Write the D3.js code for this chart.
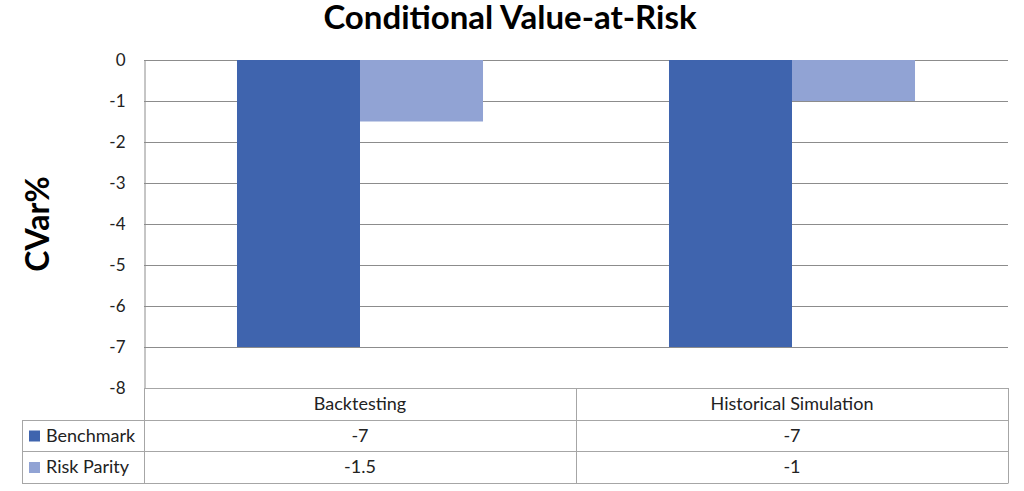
<!DOCTYPE html>
<html>
<head>
<meta charset="utf-8">
<script src="https://cdn.jsdelivr.net/npm/d3@7"></script>
<style>
  body { margin: 0; background: #fff; }
  text { font-family: Lato, "Open Sans", sans-serif; }
</style>
</head>
<body>
<script>
const categories = ["Backtesting", "Historical Simulation"];
const seriesNames = ["Benchmark", "Risk Parity"];
const benchmark = [-7, -7];
const riskParity = [-1.5, -1];
const yTicks = [0, -1, -2, -3, -4, -5, -6, -7, -8];
const colors = ["#3f64ae", "#91a3d4"];

const width = 1024;
const height = 491;
const marginLeft = 144;
const marginRight = 16;
const marginTop = 60;
const plotBottom = 388;
const rowH = 32;

const values = [benchmark, riskParity];

const svg = d3.select("body")
  .append("svg")
  .attr("width", width)
  .attr("height", height)
  .attr("viewBox", [0, 0, width, height]);

// Scales
const x0 = d3.scaleBand()
  .domain(categories)
  .range([marginLeft, width - marginRight])
  .padding(0);

const x1 = d3.scaleBand()
  .domain(seriesNames)
  .range([0, x0.bandwidth()])
  .paddingInner(0)
  .paddingOuter(0.756);

const y = d3.scaleLinear()
  .domain([-8, 0])
  .range([plotBottom, marginTop]);

// Title
svg.append("text")
  .attr("x", 510)
  .attr("y", 29)
  .attr("text-anchor", "middle")
  .attr("font-size", 33)
  .attr("font-weight", "bold")
  .attr("fill", "#000")
  .text("Conditional Value-at-Risk");

// Y axis title
svg.append("text")
  .attr("transform", `translate(49,${224}) rotate(-90)`)
  .attr("text-anchor", "middle")
  .attr("font-size", 32)
  .attr("font-weight", "bold")
  .attr("fill", "#000")
  .text("CVar%");

// Gridlines
svg.append("g")
  .selectAll("line")
  .data(yTicks)
  .join("line")
  .attr("x1", marginLeft)
  .attr("x2", width - marginRight)
  .attr("y1", d => Math.round(y(d)) + 0.5)
  .attr("y2", d => Math.round(y(d)) + 0.5)
  .attr("stroke", "#8c8c8c")
  .attr("stroke-width", 1);

// Y axis
svg.append("g")
  .attr("transform", `translate(${marginLeft + 0.5},0)`)
  .call(d3.axisLeft(y).tickValues(yTicks).tickSize(0).tickPadding(19).tickFormat(d => String(d)))
  .call(g => g.select(".domain").attr("stroke", "#8c8c8c"))
  .call(g => g.selectAll(".tick text")
    .attr("font-size", 17)
    .attr("fill", "#222")
    .attr("font-family", "Lato, sans-serif"));

// Bars
const groups = svg.append("g")
  .selectAll("g")
  .data(categories)
  .join("g")
  .attr("transform", d => `translate(${x0(d)},0)`);

groups.selectAll("rect")
  .data((d, i) => seriesNames.map((s, j) => ({ s, v: values[j][i], j })))
  .join("rect")
  .attr("x", d => x1(d.s))
  .attr("width", x1.bandwidth())
  .attr("y", d => y(0))
  .attr("height", d => y(d.v) - y(0))
  .attr("fill", d => colors[d.j]);

// Data table
const table = svg.append("g").attr("stroke", "#a6a6a6").attr("stroke-width", 1);
const tableLeft = 22;
const tableRight = width - marginRight;
const rowTops = [plotBottom, plotBottom + rowH, plotBottom + 2 * rowH - 1, plotBottom + 3 * rowH - 1];

// horizontal lines
table.append("line")
  .attr("x1", marginLeft).attr("x2", tableRight)
  .attr("y1", rowTops[0] + 0.5).attr("y2", rowTops[0] + 0.5);
[1, 2, 3].forEach(i => {
  table.append("line")
    .attr("x1", tableLeft).attr("x2", tableRight)
    .attr("y1", rowTops[i] + 0.5).attr("y2", rowTops[i] + 0.5);
});
// vertical lines
table.append("line")
  .attr("x1", tableLeft + 0.5).attr("x2", tableLeft + 0.5)
  .attr("y1", rowTops[1]).attr("y2", rowTops[3] + 0.5);
categories.forEach(c => {
  table.append("line")
    .attr("x1", x0(c) + 0.5).attr("x2", x0(c) + 0.5)
    .attr("y1", rowTops[0]).attr("y2", rowTops[3] + 0.5);
});
table.append("line")
  .attr("x1", tableRight + 0.5).attr("x2", tableRight + 0.5)
  .attr("y1", rowTops[0]).attr("y2", rowTops[3] + 0.5);

// header
svg.append("g")
  .selectAll("text")
  .data(categories)
  .join("text")
  .attr("x", d => x0(d) + x0.bandwidth() / 2)
  .attr("y", (rowTops[0] + rowTops[1]) / 2 + 6)
  .attr("text-anchor", "middle")
  .attr("font-size", 18)
  .attr("fill", "#222")
  .text(d => d);

// rows
seriesNames.forEach((s, j) => {
  const cy = (rowTops[j + 1] + rowTops[j + 2]) / 2;
  svg.append("rect")
    .attr("x", 29)
    .attr("y", cy - 5)
    .attr("width", 11)
    .attr("height", 11)
    .attr("fill", colors[j]);
  svg.append("text")
    .attr("x", 46)
    .attr("y", cy + 6)
    .attr("font-size", 18)
    .attr("fill", "#222")
    .text(s);
  svg.append("g")
    .selectAll("text")
    .data(categories)
    .join("text")
    .attr("x", d => x0(d) + x0.bandwidth() / 2)
    .attr("y", cy + 6)
    .attr("text-anchor", "middle")
    .attr("font-size", 18)
    .attr("fill", "#222")
    .text((d, i) => values[j][i]);
});
</script>
</body>
</html>
